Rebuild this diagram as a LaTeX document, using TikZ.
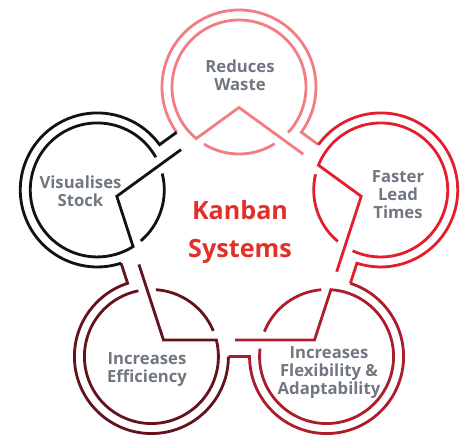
\documentclass[tikz,border=0pt]{standalone}
\usepackage{fontspec}
\setmainfont{Open Sans}
\usepackage{tikz}
\definecolor{wastec}{RGB}{240,126,130}
\definecolor{leadc}{RGB}{228,30,45}
\definecolor{flexc}{RGB}{172,28,42}
\definecolor{effc}{RGB}{100,18,28}
\definecolor{stockc}{RGB}{18,18,18}
\definecolor{textgray}{RGB}{112,119,128}
\definecolor{hubred}{RGB}{226,48,40}
\tikzstyle{ring} = [line width=1.6pt]
\tikzstyle{itemtext} = [text=textgray,align=center,font=\fontsize{9.5}{10.3}\selectfont\bfseries]
\tikzstyle{hubtext} = [text=hubred,align=center,font=\fontsize{14.3}{21.4}\selectfont\bfseries]

\begin{document}
\begin{tikzpicture}[x=0.02cm,y=0.02cm]
\useasboundingbox (-239,-203) rectangle (235,236);

% one ring per item, rotated round the middle
\foreach \a/\c in {90/wastec,18/leadc,-54/flexc,-126/effc,-198/stockc}
{
 \begin{scope}[shift={(\a:149)},rotate=\a-90]
  \draw[ring,color=\c] (216:77) arc[start angle=216,end angle=-36,radius=77] -- (-36:98);
  \draw[ring,color=\c] (-42.8:67) arc[start angle=-42.8,end angle=230.3,radius=67] -- (0,-20.5) -- ++(-36:79.4);
  \draw[ring,color=\c] (238.5:67) arc[start angle=238.5,end angle=302.2,radius=67];
 \end{scope}
}

\node[itemtext] (waste) at (1,161) {Reduces\\Waste};
\node[itemtext] (lead) at (159,41) {Faster\\Lead\\Times};
\node[itemtext] (flex) at (90,-136.5) {Increases\\Flexibility \&\\Adaptability};
\node[itemtext] (eff) at (-92,-134) {Increases\\Efficiency};
\node[itemtext] (stock) at (-158.5,44.5) {Visualises\\Stock};

\node[hubtext] (hub) at (1,4) {Kanban\\Systems};

\end{tikzpicture}
\end{document}
